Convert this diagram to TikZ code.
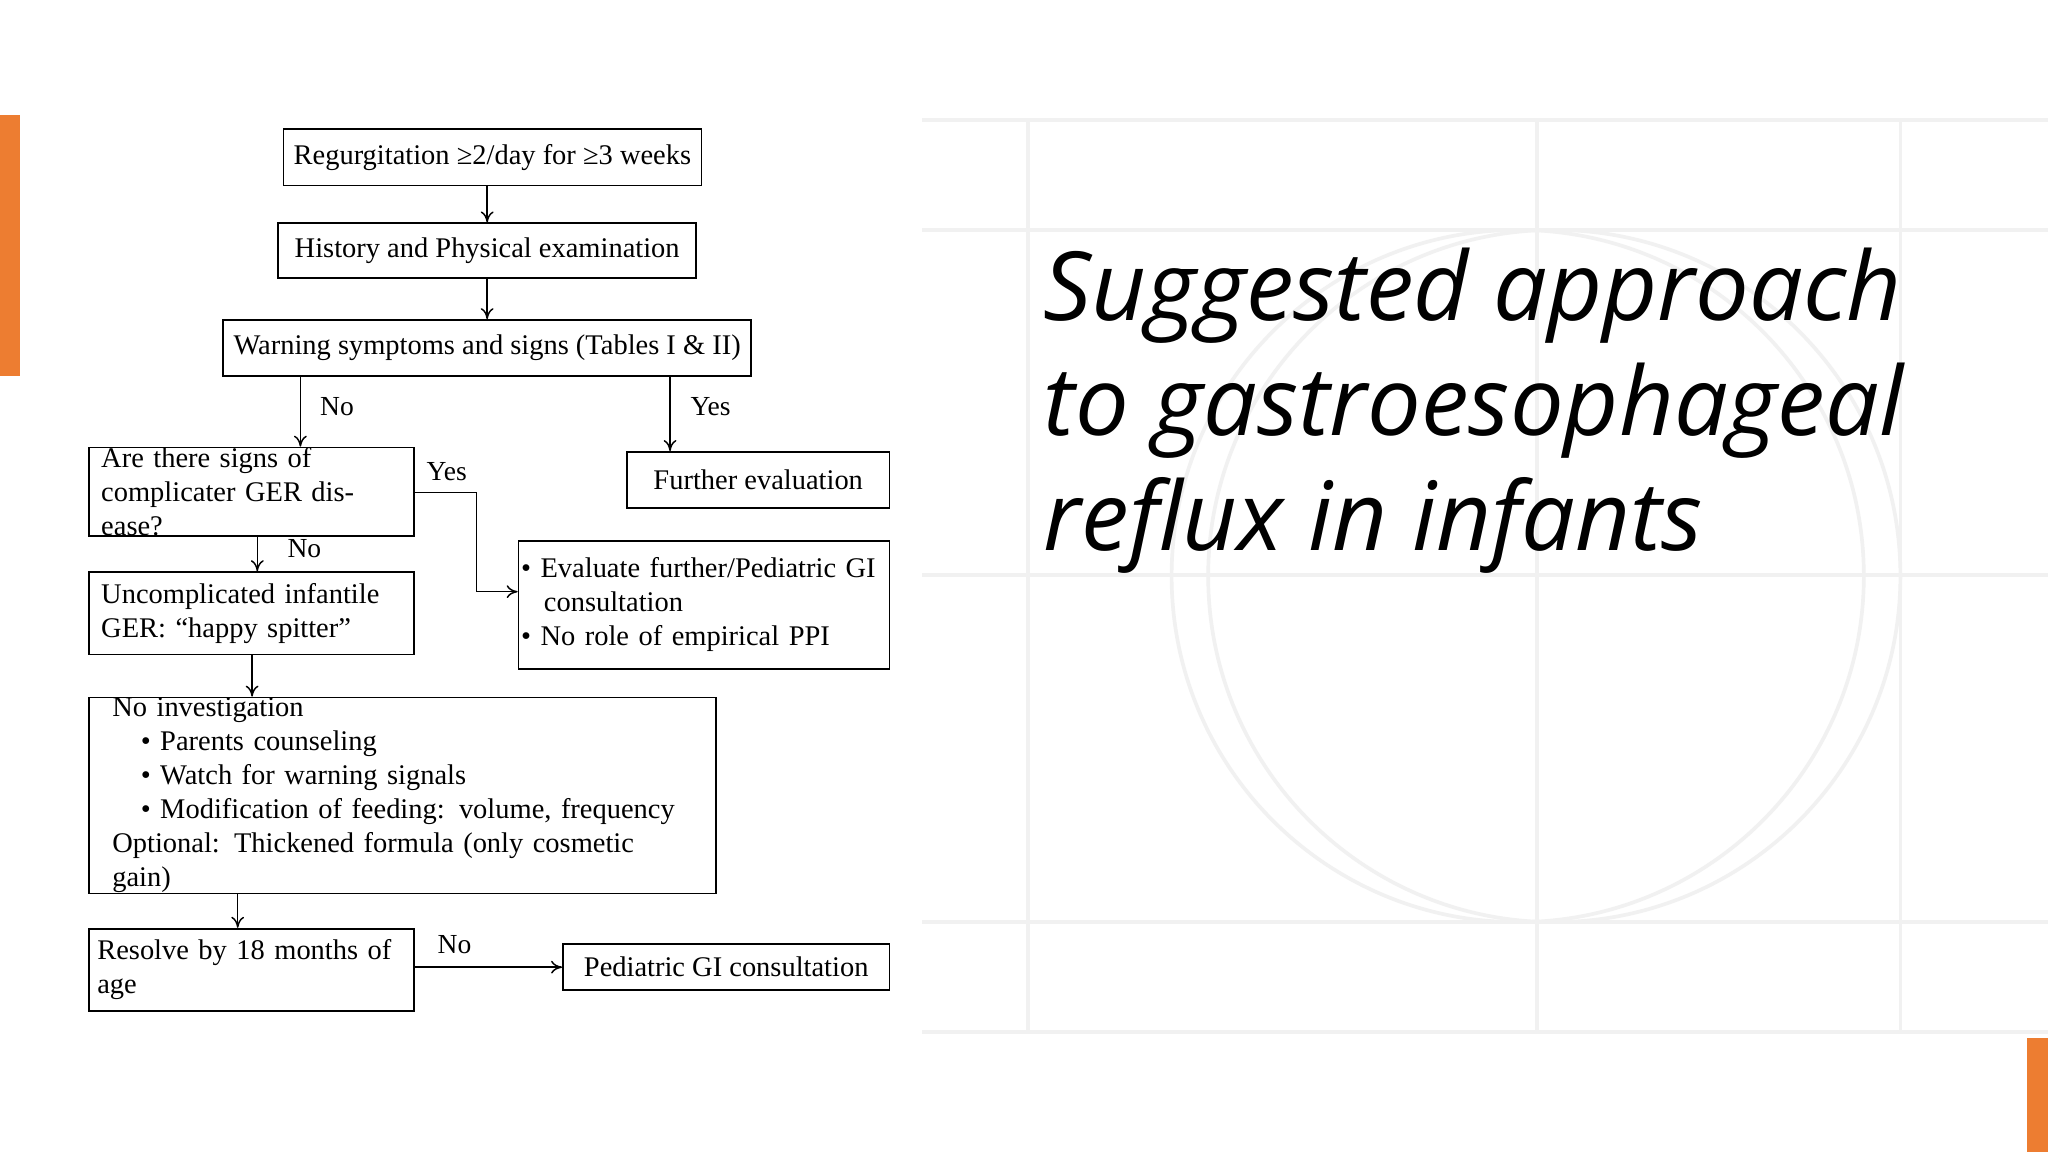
\documentclass[tikz,border=0pt]{standalone}
\usepackage{fontspec}
\setmainfont{Liberation Serif}
\newfontfamily\titlefont{Open Sans}
\usetikzlibrary{arrows.meta}
\definecolor{gridc}{HTML}{F1F1F1}
\definecolor{orangebar}{HTML}{ED7D31}
\begin{document}
\begin{tikzpicture}[x=0.05cm,y=-0.05cm,
  box/.style={draw,line width=1.9pt,inner sep=0pt,font=\fontsize{31}{37}\selectfont},
  arr/.style={line width=1.6pt,-{To[length=12pt,width=14pt]}},
  lbl/.style={font=\fontsize{30}{34}\selectfont,inner sep=0pt}]
\useasboundingbox[fill=white] (0,0) rectangle (1568,882);
% background grid
\begin{scope}[draw=gridc,line width=4pt]
\foreach \y in {92,176,440,706,790} \draw (706,\y) -- (1568,\y);
\foreach \x in {787,1177,1455} \draw (\x,92) -- (\x,790);
\draw (1162,441) circle[radius=265];
\draw (1190,441) circle[radius=265];
\end{scope}
\fill[orangebar] (0,88) rectangle (15,288);
\fill[orangebar] (1552,795) rectangle (1568,882);
% title
\node[anchor=north west,align=left,inner sep=0pt,font=\titlefont\itshape\fontsize{104}{125}\selectfont] (title) at (799,190)
  {Suggested approach\\to gastroesophageal\\reflux in infants};
% flowchart
\node[box,minimum width=16cm,minimum height=2.15cm] (n1) at (377,120.5) {Regurgitation ≥2/day for ≥3 weeks};
\node[box,minimum width=16cm,minimum height=2.1cm] (n2) at (373,192) {History and Physical examination};
\node[box,minimum width=20.2cm,minimum height=2.15cm] (n3) at (373,266.5) {Warning symptoms and signs (Tables I \& II)};
\node[box,minimum width=12.45cm,minimum height=3.05cm,text width=11.5cm,align=left] (n4) at (192.5,376.5) {Are there signs of\\complicater GER disease?};
\node[box,minimum width=10.05cm,minimum height=2.15cm] (n5) at (580.5,367.5) {Further evaluation};
\node[box,minimum width=14.2cm,minimum height=4.9cm,text width=14cm,align=left] (n6) at (539,463) {• Evaluate further/Pediatric GI\\\hspace*{0.8em}consultation\\• No role of empirical PPI};
\node[box,minimum width=12.45cm,minimum height=3.15cm,text width=11.5cm,align=left] (n7) at (192.5,469.5) {Uncomplicated infantile\\GER: “happy spitter”};
\node[box,minimum width=24cm,minimum height=7.5cm,text width=22.2cm,align=left] (n8) at (308,609) {No investigation\\\hspace*{1em}• Parents counseling\\\hspace*{1em}• Watch for warning signals\\\hspace*{1em}• Modification of feeding: volume, frequency\\Optional: Thickened formula (only cosmetic gain)};
\node[box,minimum width=12.45cm,minimum height=3.15cm,text width=11.8cm,align=left] (n9) at (192.5,742.5) {Resolve by 18 months of\\age};
\node[box,minimum width=12.5cm,minimum height=1.75cm] (n10) at (556,740.5) {Pediatric GI consultation};
% connectors
\coordinate (c34) at (230,0);
\coordinate (c35) at (513,0);
\coordinate (c47) at (197,0);
\coordinate (c78) at (193,0);
\coordinate (c89) at (182,0);
\coordinate (b1) at (365,377);
\coordinate (b2) at (365,453);
\draw[arr] (n2.north |- n1.south) -- (n2.north);
\draw[arr] (n2.south) -- (n3.north -| n2.south);
\draw[arr] (c34 |- n3.south) -- (c34 |- n4.north);
\draw[arr] (c35 |- n3.south) -- (c35 |- n5.north);
\draw[arr] (n4.east |- b1) -- (b1) -- (b2) -- (n6.west |- b2);
\draw[arr] (c47 |- n4.south) -- (c47 |- n7.north);
\draw[arr] (c78 |- n7.south) -- (c78 |- n8.north);
\draw[arr] (c89 |- n8.south) -- (c89 |- n9.north);
\draw[arr] (n9.east |- n10.west) -- (n10.west);
\node[lbl] (l1) at (258,311) {No};
\node[lbl] (l2) at (544,311) {Yes};
\node[lbl] (l3) at (342,361) {Yes};
\node[lbl] (l4) at (233,420) {No};
\node[lbl] (l5) at (348,723) {No};
\end{tikzpicture}
\end{document}
